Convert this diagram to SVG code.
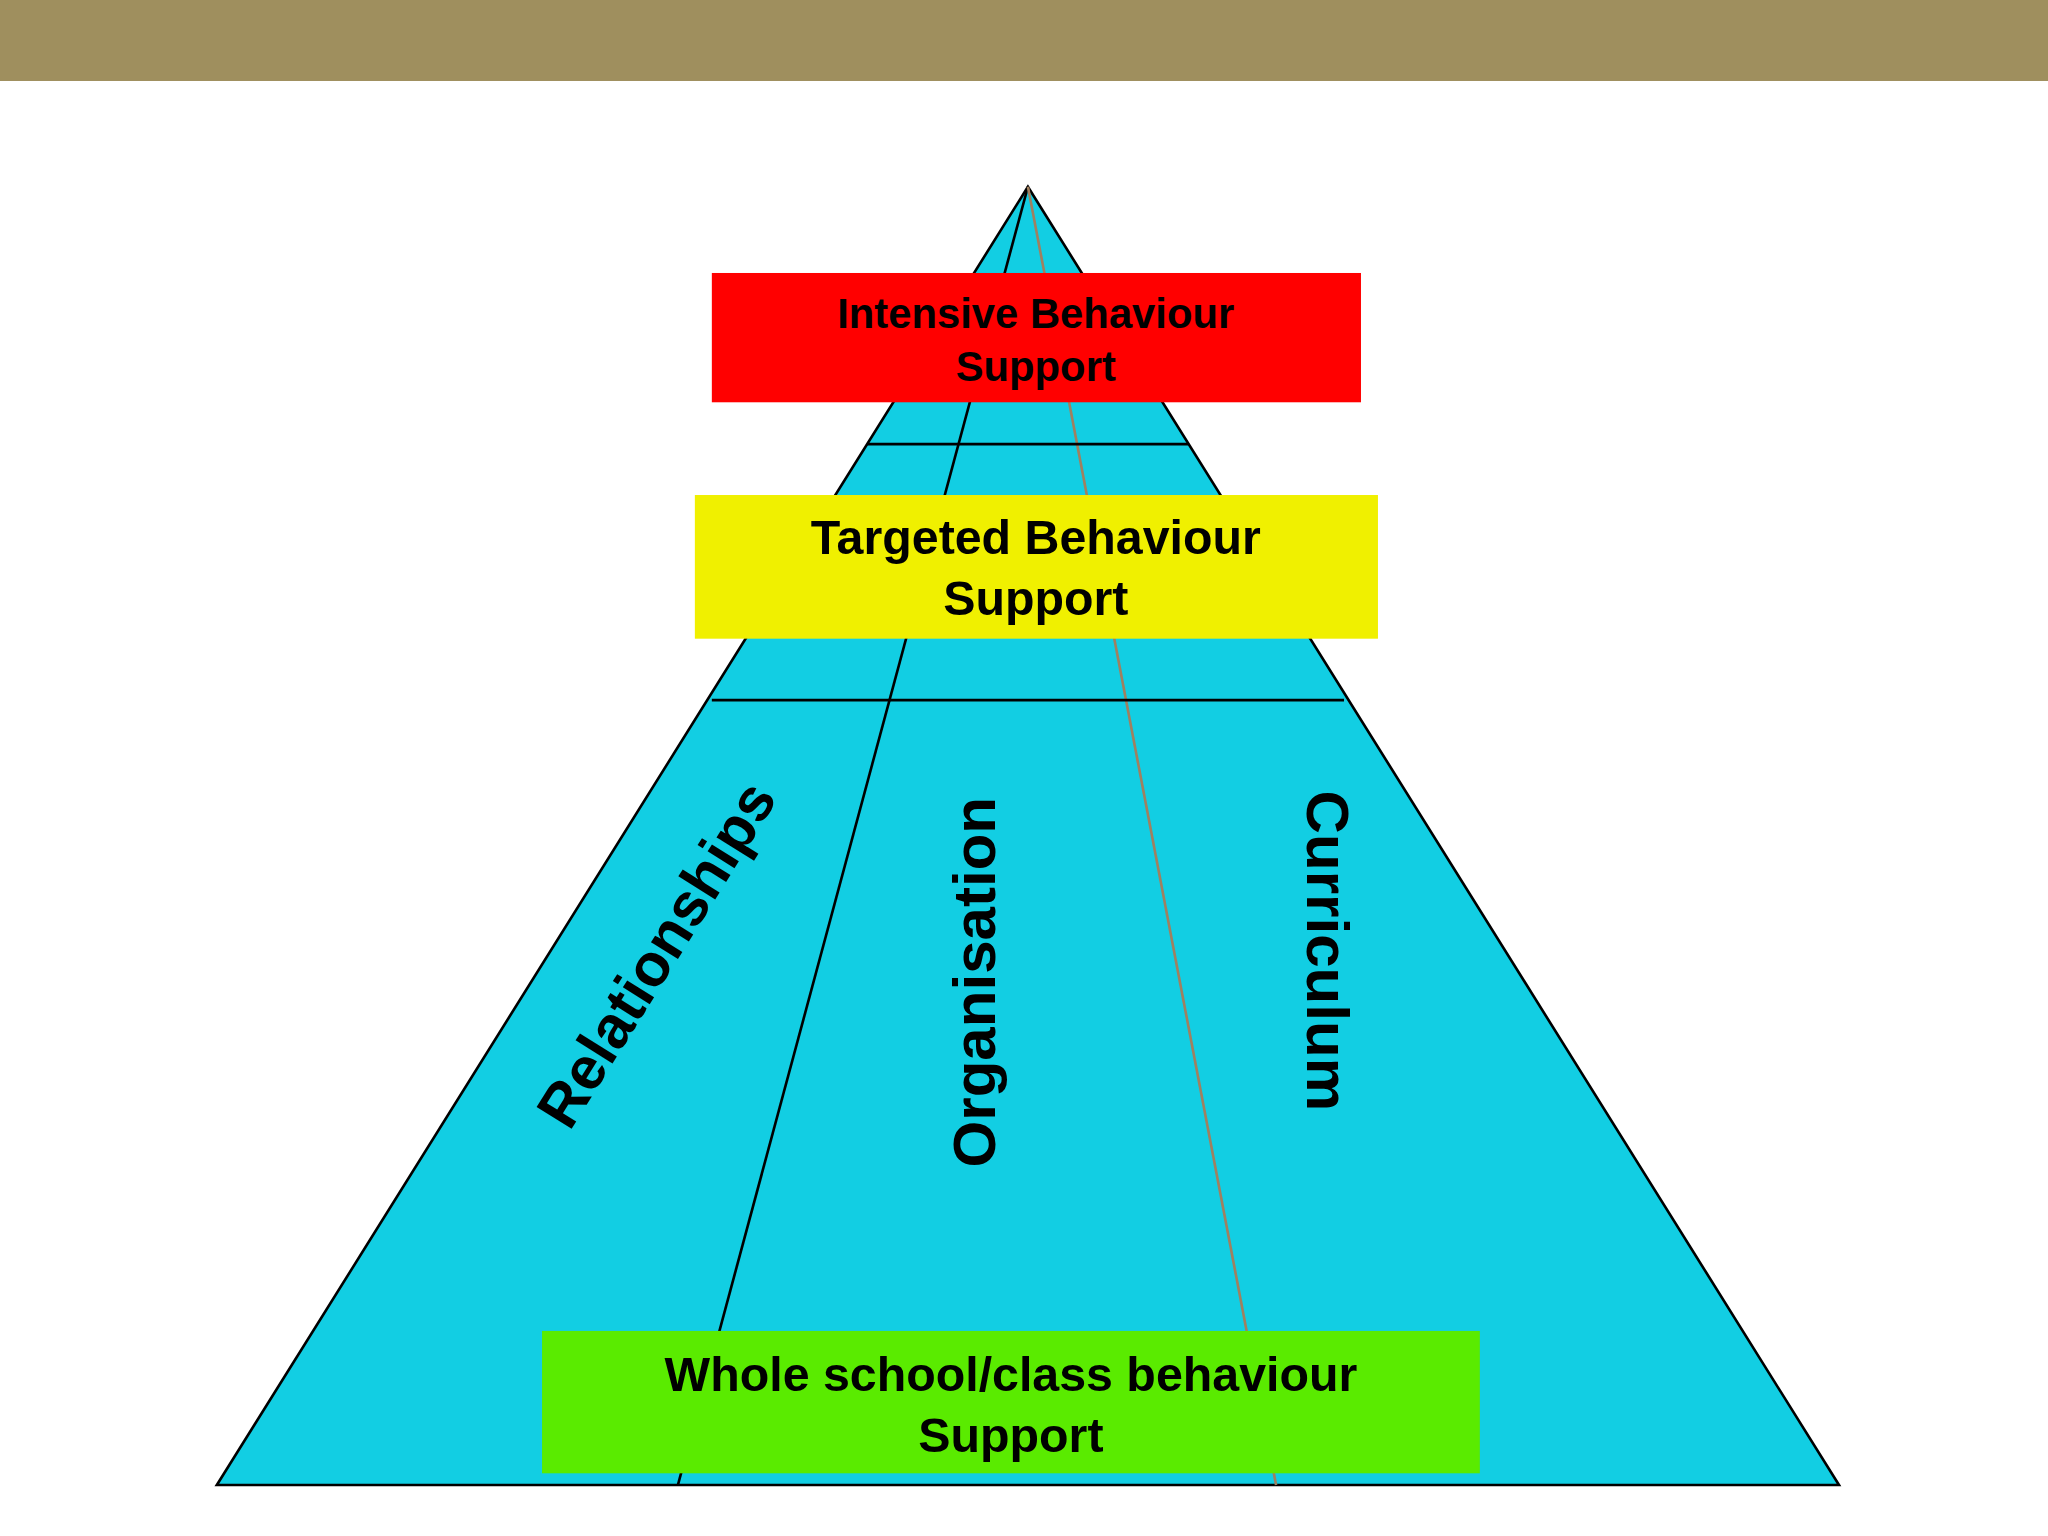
<svg xmlns="http://www.w3.org/2000/svg" width="2048" height="1536" viewBox="0 0 2048 1536">
<style>
.t{font-family:"Liberation Sans",Arial,sans-serif;font-weight:bold;fill:#000;text-anchor:middle}
</style>
<rect width="2048" height="1536" fill="#fff"/>
<g transform="scale(1.30612)">
<rect id="band" x="0" y="0" width="1568" height="62" fill="#9F8F5E"/>
<g id="pyramid">
<polygon points="787,143 166,1137 1408,1137" fill="#12CEE3" stroke="#000" stroke-width="2"/>
</g>
<g id="connectors" stroke-width="2">
<line x1="787" y1="143" x2="519" y2="1137" stroke="#000"/>
<line x1="787" y1="143" x2="977" y2="1137" stroke="#A08060"/>
<line x1="664" y1="340" x2="910" y2="340" stroke="#000"/>
<line x1="545" y1="536" x2="1029" y2="536" stroke="#000"/>
</g>
<g id="intensive">
<rect x="545" y="209" width="497" height="99" fill="#FF0000"/>
<text class="t" x="793" y="251" font-size="32">Intensive Behaviour</text>
<text class="t" x="793" y="292" font-size="32">Support</text>
</g>
<g id="targeted">
<rect x="532" y="379" width="523" height="110" fill="#F0F000"/>
<text class="t" x="793" y="424" font-size="37">Targeted Behaviour</text>
<text class="t" x="793" y="471" font-size="37">Support</text>
</g>
<g id="whole">
<rect x="415" y="1019" width="718" height="109" fill="#5AEB00"/>
<text class="t" x="774" y="1065" font-size="37">Whole school/class behaviour</text>
<text class="t" x="774" y="1112" font-size="37">Support</text>
</g>
<g id="relationships"><text class="t" font-size="46" transform="translate(516,739) rotate(-58)">Relationships</text></g>
<g id="organisation"><text class="t" font-size="46" transform="translate(762,752) rotate(-90)">Organisation</text></g>
<g id="curriculum"><text class="t" font-size="46" transform="translate(1001,728) rotate(90)">Curriculum</text></g>
</g>
</svg>
